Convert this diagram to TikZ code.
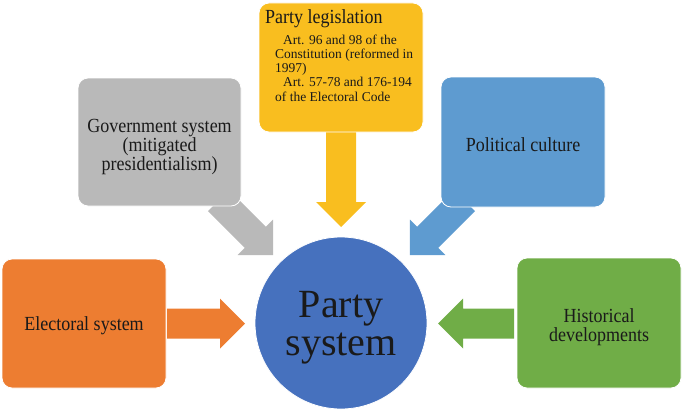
\documentclass[tikz,border=0pt]{standalone}
\usepackage{fontspec}
\setmainfont{Liberation Serif}
\newfontfamily\lblfont[FakeStretch=0.9]{Liberation Serif}
\definecolor{cyel}{HTML}{F9BE1F}
\definecolor{cgray}{HTML}{B9B9B9}
\definecolor{clblue}{HTML}{5E9BD0}
\definecolor{corange}{HTML}{ED7D31}
\definecolor{cgreen}{HTML}{70AD47}
\definecolor{cblue}{HTML}{4671BE}
\definecolor{ctext}{HTML}{1A1A1A}
\begin{document}
\begin{tikzpicture}[x=1pt,y=-1pt,
  box/.style={rounded corners=10pt, draw=white, line width=0.8pt, inner sep=0pt},
  lbl/.style={font=\lblfont\fontsize{20}{18}\selectfont, align=center, text=ctext, inner sep=0pt},
  pics/blkarrow/.style={code={\fill[pic actions] (0,-15) -- (#1-25,-15) -- (#1-25,-25) -- (#1,0) -- (#1-25,25) -- (#1-25,15) -- (0,15) -- cycle;}}]
\useasboundingbox (0,0) rectangle (685,412);
% arrows
\pic[fill=cgray, rotate=-45] at (218.6,200.6) {blkarrow=77};
\pic[fill=clblue, rotate=-135] at (464.4,200.6) {blkarrow=77};
\pic[fill=cyel, rotate=-90] at (341,132) {blkarrow=95};
\pic[fill=corange] at (167,323.5) {blkarrow=78};
\pic[fill=cgreen, rotate=180] at (514,323.5) {blkarrow=76};
% boxes
\node[box, fill=cyel, minimum width=164pt, minimum height=129pt] (leg) at (341,67.5) {};
\node[box, fill=cgray, minimum width=163pt, minimum height=128pt] (gov) at (159.5,142) {};
\node[box, fill=clblue, minimum width=164pt, minimum height=130pt] (pol) at (523,142) {};
\node[box, fill=corange, minimum width=164pt, minimum height=129pt] (elec) at (84,323.5) {};
\node[box, fill=cgreen, minimum width=164pt, minimum height=130pt] (hist) at (599,323) {};
\node[circle, fill=cblue, draw=white, line width=0.8pt, minimum size=172pt, inner sep=0pt] (party) at (341,323) {};
% texts
\node[font=\fontsize{40}{38}\selectfont, align=center, text=ctext, inner sep=0pt] (partytxt) at (341,327.5) {Party\\system};
\node[lbl] (govtxt) at (159.5,147) {Government system\\(mitigated\\presidentialism)};
\node[lbl] (poltxt) at (523,145) {Political culture};
\node[lbl] (electxt) at (84,326) {Electoral system};
\node[lbl, font=\lblfont\fontsize{20}{18.5}\selectfont] (histtxt) at (599,327) {Historical\\developments};
\node[anchor=base west, inner sep=0pt, font=\lblfont\fontsize{20}{18}\selectfont, text=ctext] (legtitle) at (265,23.3) {Party legislation};
\node[anchor=north west, inner sep=0pt, align=left, font=\fontsize{13.5}{14.2}\selectfont, text=ctext] (legbody) at (275,34.5)
  {\hspace*{8pt}Art. 96 and 98 of the\\Constitution (reformed in\\1997)\\\hspace*{8pt}Art. 57-78 and 176-194\\of the Electoral Code};
\end{tikzpicture}
\end{document}
